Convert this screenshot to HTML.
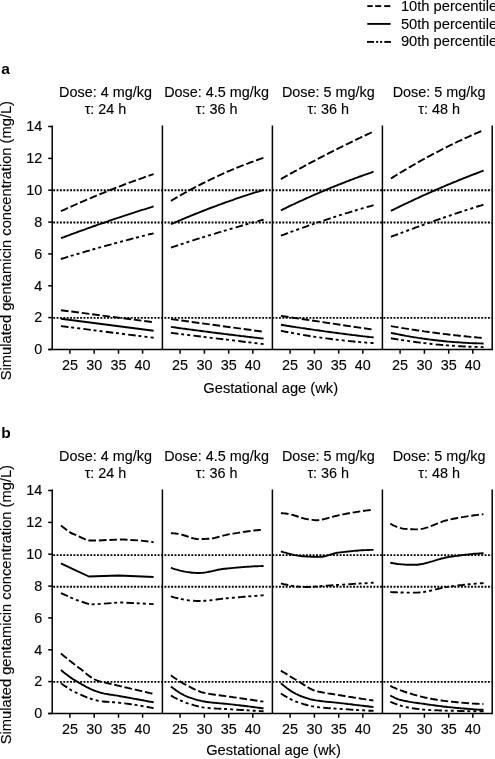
<!DOCTYPE html>
<html><head><meta charset="utf-8"><title>Gentamicin simulation</title>
<style>
html,body{margin:0;padding:0;background:#fff;width:495px;height:759px;overflow:hidden}
svg{display:block}
text{font-family:"Liberation Sans",sans-serif;fill:#000;stroke:#000;stroke-width:0.12px}
.t{font-size:14.7px}.ti{font-size:14.4px;text-anchor:middle}.tk{font-size:14.4px;text-anchor:middle}.yt{font-size:14.4px;text-anchor:end}
.lb{font-size:14.7px;text-anchor:middle}.pl{font-size:15.5px;font-weight:bold;stroke-width:0}
.ax{stroke:#000;stroke-width:1.5;fill:none}
.c{stroke:#000;stroke-width:1.9;fill:none;stroke-linejoin:round}
.d{stroke-dasharray:7.7 2.8}.dd{stroke-dasharray:7.6 2.7 3 3.1 3 3.2}
.ref{stroke:#000;stroke-width:1.9;stroke-dasharray:1.9 1.47;fill:none}
</style></head><body>

<svg width="495" height="759" viewBox="0 0 495 759">

<g>
<line class="c" x1="367.3" y1="6.1" x2="372.7" y2="6.1"/>
<line class="c" x1="375.2" y1="6.1" x2="381.2" y2="6.1"/>
<line class="c" x1="384.2" y1="6.1" x2="390.3" y2="6.1"/>
<line class="c" x1="367.3" y1="23.9" x2="390.6" y2="23.9"/>
<line class="c" x1="367" y1="41.9" x2="374" y2="41.9"/>
<line class="c" x1="376.1" y1="41.9" x2="378.2" y2="41.9"/>
<line class="c" x1="380.1" y1="41.9" x2="382.2" y2="41.9"/>
<line class="c" x1="384.3" y1="41.9" x2="391" y2="41.9"/>
<text class="t" x="400.9" y="10.6">10th percentile</text>
<text class="t" x="400.9" y="28.6">50th percentile</text>
<text class="t" x="400.9" y="46.4">90th percentile</text>
</g>

<g>
<text class="pl" x="1.2" y="73.5">a</text>
<text class="lb" transform="translate(10.9,240.6) rotate(-90)" x="0" y="0">Simulated gentamicin concentration (mg/L)</text>
<text class="ti" x="105.5" y="96.5">Dose: 4 mg/kg</text>
<text class="ti" x="105.5" y="113.5">τ: 24 h</text>
<text class="ti" x="216.6" y="96.5">Dose: 4.5 mg/kg</text>
<text class="ti" x="216.6" y="113.5">τ: 36 h</text>
<text class="ti" x="328.3" y="96.5">Dose: 5 mg/kg</text>
<text class="ti" x="328.3" y="113.5">τ: 36 h</text>
<text class="ti" x="439.1" y="96.5">Dose: 5 mg/kg</text>
<text class="ti" x="439.1" y="113.5">τ: 48 h</text>
<line class="ref" x1="53.2" y1="190.3" x2="491.7" y2="190.3"/>
<line class="ref" x1="53.2" y1="222.5" x2="491.7" y2="222.5"/>
<line class="ref" x1="53.2" y1="317.9" x2="491.7" y2="317.9"/>
<line class="ax" x1="52.2" y1="125.5" x2="52.2" y2="349.5"/>
<line class="ax" x1="162.4" y1="125.5" x2="162.4" y2="349.5"/>
<line class="ax" x1="272.4" y1="125.5" x2="272.4" y2="349.5"/>
<line class="ax" x1="382.4" y1="125.5" x2="382.4" y2="349.5"/>
<line class="ax" x1="492.2" y1="125.5" x2="492.2" y2="349.5"/>
<line class="ax" x1="48.2" y1="349.5" x2="492.9" y2="349.5"/>
<line class="ax" x1="48.2" y1="349.5" x2="52.2" y2="349.5"/>
<text class="yt" x="42.3" y="354.3">0</text>
<line class="ax" x1="48.2" y1="317.6" x2="52.2" y2="317.6"/>
<text class="yt" x="42.3" y="322.4">2</text>
<line class="ax" x1="48.2" y1="285.8" x2="52.2" y2="285.8"/>
<text class="yt" x="42.3" y="290.6">4</text>
<line class="ax" x1="48.2" y1="253.9" x2="52.2" y2="253.9"/>
<text class="yt" x="42.3" y="258.7">6</text>
<line class="ax" x1="48.2" y1="222.1" x2="52.2" y2="222.1"/>
<text class="yt" x="42.3" y="226.9">8</text>
<line class="ax" x1="48.2" y1="190.2" x2="52.2" y2="190.2"/>
<text class="yt" x="42.3" y="195">10</text>
<line class="ax" x1="48.2" y1="158.4" x2="52.2" y2="158.4"/>
<text class="yt" x="42.3" y="163.2">12</text>
<line class="ax" x1="48.2" y1="126.5" x2="52.2" y2="126.5"/>
<text class="yt" x="42.3" y="131.3">14</text>
<line class="ax" x1="69.9" y1="349.5" x2="69.9" y2="353.7"/>
<text class="tk" x="69.9" y="370">25</text>
<line class="ax" x1="94.2" y1="349.5" x2="94.2" y2="353.7"/>
<text class="tk" x="94.2" y="370">30</text>
<line class="ax" x1="118.5" y1="349.5" x2="118.5" y2="353.7"/>
<text class="tk" x="118.5" y="370">35</text>
<line class="ax" x1="142.6" y1="349.5" x2="142.6" y2="353.7"/>
<text class="tk" x="142.6" y="370">40</text>
<line class="ax" x1="180.1" y1="349.5" x2="180.1" y2="353.7"/>
<text class="tk" x="180.1" y="370">25</text>
<line class="ax" x1="204.4" y1="349.5" x2="204.4" y2="353.7"/>
<text class="tk" x="204.4" y="370">30</text>
<line class="ax" x1="228.7" y1="349.5" x2="228.7" y2="353.7"/>
<text class="tk" x="228.7" y="370">35</text>
<line class="ax" x1="252.8" y1="349.5" x2="252.8" y2="353.7"/>
<text class="tk" x="252.8" y="370">40</text>
<line class="ax" x1="290.1" y1="349.5" x2="290.1" y2="353.7"/>
<text class="tk" x="290.1" y="370">25</text>
<line class="ax" x1="314.4" y1="349.5" x2="314.4" y2="353.7"/>
<text class="tk" x="314.4" y="370">30</text>
<line class="ax" x1="338.7" y1="349.5" x2="338.7" y2="353.7"/>
<text class="tk" x="338.7" y="370">35</text>
<line class="ax" x1="362.8" y1="349.5" x2="362.8" y2="353.7"/>
<text class="tk" x="362.8" y="370">40</text>
<line class="ax" x1="400.1" y1="349.5" x2="400.1" y2="353.7"/>
<text class="tk" x="400.1" y="370">25</text>
<line class="ax" x1="424.4" y1="349.5" x2="424.4" y2="353.7"/>
<text class="tk" x="424.4" y="370">30</text>
<line class="ax" x1="448.7" y1="349.5" x2="448.7" y2="353.7"/>
<text class="tk" x="448.7" y="370">35</text>
<line class="ax" x1="472.8" y1="349.5" x2="472.8" y2="353.7"/>
<text class="tk" x="472.8" y="370">40</text>
<text class="lb" x="270.7" y="392.5">Gestational age (wk)</text>
<polyline class="c d" points="60.9,211.2 62.4,210.5 63.9,209.8 65.5,209.1 67,208.4 68.5,207.7 70,207 71.5,206.4 73.1,205.7 74.6,205 76.1,204.3 77.6,203.7 79.1,203 80.7,202.3 82.2,201.7 83.7,201 85.2,200.4 86.7,199.7 88.3,199.1 89.8,198.4 91.3,197.8 92.8,197.1 94.3,196.5 95.9,195.9 97.4,195.2 98.9,194.6 100.4,194 101.9,193.4 103.5,192.8 105,192.1 106.5,191.5 108,190.9 109.5,190.3 111,189.7 112.6,189.1 114.1,188.5 115.6,187.9 117.1,187.3 118.6,186.7 120.2,186.2 121.7,185.6 123.2,185 124.7,184.4 126.2,183.9 127.8,183.3 129.3,182.7 130.8,182.2 132.3,181.6 133.8,181 135.4,180.5 136.9,179.9 138.4,179.4 139.9,178.9 141.4,178.3 143,177.8 144.5,177.2 146,176.7 147.5,176.2 149,175.7 150.6,175.1 152.1,174.6 153.6,174.1"/>
<polyline class="c" points="60.9,238.2 62.4,237.6 63.9,237.1 65.5,236.5 67,235.9 68.5,235.4 70,234.8 71.5,234.2 73.1,233.7 74.6,233.1 76.1,232.6 77.6,232 79.1,231.4 80.7,230.9 82.2,230.3 83.7,229.8 85.2,229.3 86.7,228.7 88.3,228.2 89.8,227.6 91.3,227.1 92.8,226.5 94.3,226 95.9,225.5 97.4,224.9 98.9,224.4 100.4,223.9 101.9,223.4 103.5,222.8 105,222.3 106.5,221.8 108,221.3 109.5,220.7 111,220.2 112.6,219.7 114.1,219.2 115.6,218.7 117.1,218.2 118.6,217.7 120.2,217.1 121.7,216.6 123.2,216.1 124.7,215.6 126.2,215.1 127.8,214.6 129.3,214.1 130.8,213.6 132.3,213.1 133.8,212.7 135.4,212.2 136.9,211.7 138.4,211.2 139.9,210.7 141.4,210.2 143,209.7 144.5,209.3 146,208.8 147.5,208.3 149,207.8 150.6,207.3 152.1,206.9 153.6,206.4"/>
<polyline class="c dd" points="60.9,259 62.4,258.5 63.9,258.1 65.5,257.6 67,257.1 68.5,256.7 70,256.2 71.5,255.7 73.1,255.3 74.6,254.8 76.1,254.4 77.6,253.9 79.1,253.5 80.7,253 82.2,252.6 83.7,252.1 85.2,251.7 86.7,251.2 88.3,250.8 89.8,250.4 91.3,249.9 92.8,249.5 94.3,249 95.9,248.6 97.4,248.2 98.9,247.7 100.4,247.3 101.9,246.9 103.5,246.5 105,246 106.5,245.6 108,245.2 109.5,244.8 111,244.4 112.6,243.9 114.1,243.5 115.6,243.1 117.1,242.7 118.6,242.3 120.2,241.9 121.7,241.5 123.2,241.1 124.7,240.7 126.2,240.3 127.8,239.9 129.3,239.5 130.8,239.1 132.3,238.7 133.8,238.3 135.4,237.9 136.9,237.5 138.4,237.1 139.9,236.7 141.4,236.3 143,235.9 144.5,235.6 146,235.2 147.5,234.8 149,234.4 150.6,234 152.1,233.7 153.6,233.3"/>
<polyline class="c d" points="60.9,310.2 153.6,322.2"/>
<polyline class="c" points="60.9,318.7 153.6,330.8"/>
<polyline class="c dd" points="60.9,326.1 153.6,337.8"/>
<polyline class="c d" points="170.9,200.9 172.4,200 173.9,199.1 175.4,198.2 177,197.3 178.5,196.5 180,195.6 181.5,194.7 183,193.9 184.5,193 186.1,192.2 187.6,191.3 189.1,190.5 190.6,189.7 192.1,188.9 193.6,188.1 195.2,187.2 196.7,186.5 198.2,185.7 199.7,184.9 201.2,184.1 202.7,183.3 204.3,182.6 205.8,181.8 207.3,181.1 208.8,180.3 210.3,179.6 211.8,178.8 213.4,178.1 214.9,177.4 216.4,176.7 217.9,176 219.4,175.3 220.9,174.6 222.5,173.9 224,173.2 225.5,172.6 227,171.9 228.5,171.2 230,170.6 231.6,169.9 233.1,169.3 234.6,168.7 236.1,168 237.6,167.4 239.1,166.8 240.7,166.2 242.2,165.6 243.7,165 245.2,164.4 246.7,163.8 248.2,163.3 249.8,162.7 251.3,162.1 252.8,161.6 254.3,161 255.8,160.5 257.3,160 258.9,159.4 260.4,158.9 261.9,158.4 263.4,157.9"/>
<polyline class="c" points="170.9,224.2 172.4,223.5 173.9,222.9 175.5,222.2 177,221.6 178.5,220.9 180,220.3 181.5,219.6 183.1,219 184.6,218.3 186.1,217.7 187.6,217.1 189.1,216.5 190.7,215.8 192.2,215.2 193.7,214.6 195.2,214 196.7,213.4 198.3,212.8 199.8,212.2 201.3,211.6 202.8,211 204.3,210.4 205.9,209.8 207.4,209.2 208.9,208.6 210.4,208 211.9,207.5 213.5,206.9 215,206.3 216.5,205.8 218,205.2 219.5,204.6 221,204.1 222.6,203.5 224.1,203 225.6,202.4 227.1,201.9 228.6,201.4 230.2,200.8 231.7,200.3 233.2,199.8 234.7,199.2 236.2,198.7 237.8,198.2 239.3,197.7 240.8,197.2 242.3,196.7 243.8,196.2 245.4,195.7 246.9,195.2 248.4,194.7 249.9,194.2 251.4,193.7 253,193.2 254.5,192.7 256,192.2 257.5,191.8 259,191.3 260.6,190.8 262.1,190.4 263.6,189.9"/>
<polyline class="c dd" points="170.9,247.6 172.4,247.1 173.9,246.6 175.5,246.1 177,245.6 178.5,245.1 180,244.6 181.5,244.1 183.1,243.6 184.6,243.1 186.1,242.6 187.6,242.1 189.1,241.6 190.7,241.2 192.2,240.7 193.7,240.2 195.2,239.7 196.7,239.2 198.3,238.7 199.8,238.3 201.3,237.8 202.8,237.3 204.3,236.8 205.9,236.4 207.4,235.9 208.9,235.4 210.4,235 211.9,234.5 213.5,234 215,233.6 216.5,233.1 218,232.7 219.5,232.2 221,231.8 222.6,231.3 224.1,230.8 225.6,230.4 227.1,229.9 228.6,229.5 230.2,229 231.7,228.6 233.2,228.2 234.7,227.7 236.2,227.3 237.8,226.8 239.3,226.4 240.8,226 242.3,225.5 243.8,225.1 245.4,224.7 246.9,224.2 248.4,223.8 249.9,223.4 251.4,222.9 253,222.5 254.5,222.1 256,221.7 257.5,221.3 259,220.8 260.6,220.4 262.1,220 263.6,219.6"/>
<polyline class="c d" points="170.9,319.1 263.4,331.7"/>
<polyline class="c" points="170.9,326.9 172.4,327.1 173.9,327.3 175.5,327.5 177,327.7 178.5,328 180,328.2 181.5,328.4 183.1,328.6 184.6,328.8 186.1,329 187.6,329.2 189.1,329.4 190.7,329.6 192.2,329.8 193.7,330 195.2,330.2 196.7,330.4 198.3,330.6 199.8,330.8 201.3,331 202.8,331.2 204.3,331.4 205.9,331.6 207.4,331.8 208.9,332 210.4,332.2 211.9,332.4 213.5,332.6 215,332.8 216.5,333 218,333.2 219.5,333.3 221,333.5 222.6,333.7 224.1,333.9 225.6,334.1 227.1,334.3 228.6,334.5 230.2,334.7 231.7,334.8 233.2,335 234.7,335.2 236.2,335.4 237.8,335.6 239.3,335.8 240.8,336 242.3,336.1 243.8,336.3 245.4,336.5 246.9,336.7 248.4,336.9 249.9,337 251.4,337.2 253,337.4 254.5,337.6 256,337.7 257.5,337.9 259,338.1 260.6,338.3 262.1,338.4 263.6,338.6"/>
<polyline class="c dd" points="170.9,332.9 263.6,344.1"/>
<polyline class="c d" points="280.9,179.1 282.4,178.2 283.9,177.4 285.4,176.5 287,175.7 288.5,174.8 290,174 291.5,173.1 293,172.3 294.5,171.4 296.1,170.6 297.6,169.8 299.1,168.9 300.6,168.1 302.1,167.3 303.6,166.5 305.2,165.6 306.7,164.8 308.2,164 309.7,163.2 311.2,162.4 312.7,161.6 314.3,160.8 315.8,160 317.3,159.2 318.8,158.4 320.3,157.6 321.8,156.8 323.4,156 324.9,155.2 326.4,154.4 327.9,153.7 329.4,152.9 330.9,152.1 332.5,151.3 334,150.6 335.5,149.8 337,149.1 338.5,148.3 340,147.5 341.6,146.8 343.1,146 344.6,145.3 346.1,144.5 347.6,143.8 349.1,143.1 350.7,142.3 352.2,141.6 353.7,140.9 355.2,140.1 356.7,139.4 358.2,138.7 359.8,138 361.3,137.2 362.8,136.5 364.3,135.8 365.8,135.1 367.3,134.4 368.9,133.7 370.4,133 371.9,132.3 373.4,131.6"/>
<polyline class="c" points="280.9,210.3 282.4,209.6 283.9,208.8 285.5,208.1 287,207.4 288.5,206.6 290,205.9 291.5,205.2 293.1,204.5 294.6,203.8 296.1,203 297.6,202.3 299.1,201.6 300.7,200.9 302.2,200.3 303.7,199.6 305.2,198.9 306.7,198.2 308.3,197.5 309.8,196.8 311.3,196.2 312.8,195.5 314.3,194.8 315.9,194.2 317.4,193.5 318.9,192.9 320.4,192.2 321.9,191.6 323.5,190.9 325,190.3 326.5,189.6 328,189 329.5,188.4 331,187.7 332.6,187.1 334.1,186.5 335.6,185.9 337.1,185.3 338.6,184.7 340.2,184.1 341.7,183.5 343.2,182.9 344.7,182.3 346.2,181.7 347.8,181.1 349.3,180.5 350.8,179.9 352.3,179.4 353.8,178.8 355.4,178.2 356.9,177.7 358.4,177.1 359.9,176.5 361.4,176 363,175.4 364.5,174.9 366,174.4 367.5,173.8 369,173.3 370.6,172.8 372.1,172.2 373.6,171.7"/>
<polyline class="c dd" points="280.9,235.7 282.4,235.1 283.9,234.6 285.5,234 287,233.4 288.5,232.9 290,232.3 291.5,231.7 293.1,231.2 294.6,230.6 296.1,230.1 297.6,229.5 299.1,229 300.7,228.4 302.2,227.9 303.7,227.4 305.2,226.8 306.7,226.3 308.3,225.7 309.8,225.2 311.3,224.7 312.8,224.2 314.3,223.6 315.9,223.1 317.4,222.6 318.9,222.1 320.4,221.6 321.9,221.1 323.5,220.6 325,220.1 326.5,219.6 328,219.1 329.5,218.6 331,218.1 332.6,217.6 334.1,217.1 335.6,216.6 337.1,216.1 338.6,215.6 340.2,215.1 341.7,214.7 343.2,214.2 344.7,213.7 346.2,213.2 347.8,212.8 349.3,212.3 350.8,211.9 352.3,211.4 353.8,210.9 355.4,210.5 356.9,210 358.4,209.6 359.9,209.1 361.4,208.7 363,208.2 364.5,207.8 366,207.4 367.5,206.9 369,206.5 370.6,206.1 372.1,205.6 373.6,205.2"/>
<polyline class="c d" points="280.9,315.9 373.4,329.7"/>
<polyline class="c" points="280.9,324.8 282.4,325 283.9,325.3 285.5,325.5 287,325.8 288.5,326 290,326.2 291.5,326.5 293.1,326.7 294.6,326.9 296.1,327.2 297.6,327.4 299.1,327.6 300.7,327.9 302.2,328.1 303.7,328.3 305.2,328.5 306.7,328.8 308.3,329 309.8,329.2 311.3,329.4 312.8,329.6 314.3,329.9 315.9,330.1 317.4,330.3 318.9,330.5 320.4,330.7 321.9,330.9 323.5,331.1 325,331.4 326.5,331.6 328,331.8 329.5,332 331,332.2 332.6,332.4 334.1,332.6 335.6,332.8 337.1,333 338.6,333.2 340.2,333.4 341.7,333.6 343.2,333.8 344.7,334 346.2,334.2 347.8,334.4 349.3,334.6 350.8,334.8 352.3,335 353.8,335.1 355.4,335.3 356.9,335.5 358.4,335.7 359.9,335.9 361.4,336.1 363,336.3 364.5,336.4 366,336.6 367.5,336.8 369,337 370.6,337.1 372.1,337.3 373.6,337.5"/>
<polyline class="c dd" points="280.9,330.8 282.4,331.1 283.9,331.4 285.5,331.7 287,332 288.5,332.3 290,332.6 291.5,332.8 293.1,333.1 294.6,333.4 296.1,333.7 297.6,333.9 299.1,334.2 300.7,334.5 302.2,334.7 303.7,335 305.2,335.2 306.7,335.5 308.3,335.7 309.8,336 311.3,336.2 312.8,336.4 314.3,336.7 315.9,336.9 317.4,337.1 318.9,337.3 320.4,337.6 321.9,337.8 323.5,338 325,338.2 326.5,338.4 328,338.6 329.5,338.8 331,339 332.6,339.2 334.1,339.4 335.6,339.6 337.1,339.7 338.6,339.9 340.2,340.1 341.7,340.3 343.2,340.4 344.7,340.6 346.2,340.8 347.8,340.9 349.3,341.1 350.8,341.2 352.3,341.4 353.8,341.5 355.4,341.7 356.9,341.8 358.4,341.9 359.9,342.1 361.4,342.2 363,342.3 364.5,342.4 366,342.6 367.5,342.7 369,342.8 370.6,342.9 372.1,343 373.6,343.1"/>
<polyline class="c d" points="390.9,178.5 392.4,177.6 393.9,176.6 395.4,175.7 397,174.7 398.5,173.8 400,172.9 401.5,172 403,171.1 404.5,170.2 406.1,169.3 407.6,168.4 409.1,167.5 410.6,166.6 412.1,165.7 413.6,164.8 415.2,164 416.7,163.1 418.2,162.2 419.7,161.4 421.2,160.5 422.7,159.7 424.3,158.9 425.8,158 427.3,157.2 428.8,156.4 430.3,155.6 431.8,154.7 433.4,153.9 434.9,153.1 436.4,152.3 437.9,151.6 439.4,150.8 440.9,150 442.5,149.2 444,148.4 445.5,147.7 447,146.9 448.5,146.2 450,145.4 451.6,144.7 453.1,143.9 454.6,143.2 456.1,142.5 457.6,141.7 459.1,141 460.7,140.3 462.2,139.6 463.7,138.9 465.2,138.2 466.7,137.5 468.2,136.8 469.8,136.1 471.3,135.4 472.8,134.8 474.3,134.1 475.8,133.4 477.3,132.8 478.9,132.1 480.4,131.5 481.9,130.8 483.4,130.2"/>
<polyline class="c" points="390.9,210.9 392.4,210.1 393.9,209.4 395.5,208.6 397,207.9 398.5,207.2 400,206.4 401.5,205.7 403.1,204.9 404.6,204.2 406.1,203.5 407.6,202.8 409.1,202 410.7,201.3 412.2,200.6 413.7,199.9 415.2,199.2 416.7,198.5 418.3,197.8 419.8,197.1 421.3,196.4 422.8,195.7 424.3,195 425.9,194.3 427.4,193.6 428.9,193 430.4,192.3 431.9,191.6 433.5,190.9 435,190.3 436.5,189.6 438,188.9 439.5,188.3 441,187.6 442.6,187 444.1,186.3 445.6,185.7 447.1,185 448.6,184.4 450.2,183.8 451.7,183.1 453.2,182.5 454.7,181.9 456.2,181.3 457.8,180.6 459.3,180 460.8,179.4 462.3,178.8 463.8,178.2 465.4,177.6 466.9,177 468.4,176.4 469.9,175.8 471.4,175.2 473,174.6 474.5,174 476,173.5 477.5,172.9 479,172.3 480.6,171.7 482.1,171.2 483.6,170.6"/>
<polyline class="c dd" points="390.9,236.8 392.4,236.2 393.9,235.6 395.5,235.1 397,234.5 398.5,233.9 400,233.3 401.5,232.8 403.1,232.2 404.6,231.6 406.1,231.1 407.6,230.5 409.1,230 410.7,229.4 412.2,228.8 413.7,228.3 415.2,227.7 416.7,227.2 418.3,226.6 419.8,226.1 421.3,225.5 422.8,225 424.3,224.4 425.9,223.9 427.4,223.4 428.9,222.8 430.4,222.3 431.9,221.7 433.5,221.2 435,220.7 436.5,220.1 438,219.6 439.5,219.1 441,218.6 442.6,218 444.1,217.5 445.6,217 447.1,216.5 448.6,216 450.2,215.5 451.7,214.9 453.2,214.4 454.7,213.9 456.2,213.4 457.8,212.9 459.3,212.4 460.8,211.9 462.3,211.4 463.8,210.9 465.4,210.4 466.9,209.9 468.4,209.4 469.9,208.9 471.4,208.5 473,208 474.5,207.5 476,207 477.5,206.5 479,206 480.6,205.6 482.1,205.1 483.6,204.6"/>
<polyline class="c d" points="390.9,326.1 392.4,326.4 393.9,326.6 395.4,326.9 397,327.1 398.5,327.4 400,327.6 401.5,327.9 403,328.1 404.5,328.4 406.1,328.6 407.6,328.9 409.1,329.1 410.6,329.3 412.1,329.6 413.6,329.8 415.2,330 416.7,330.3 418.2,330.5 419.7,330.7 421.2,330.9 422.7,331.1 424.3,331.4 425.8,331.6 427.3,331.8 428.8,332 430.3,332.2 431.8,332.4 433.4,332.6 434.9,332.8 436.4,333 437.9,333.2 439.4,333.4 440.9,333.6 442.5,333.8 444,334 445.5,334.1 447,334.3 448.5,334.5 450,334.7 451.6,334.9 453.1,335 454.6,335.2 456.1,335.4 457.6,335.5 459.1,335.7 460.7,335.9 462.2,336 463.7,336.2 465.2,336.3 466.7,336.5 468.2,336.6 469.8,336.8 471.3,336.9 472.8,337.1 474.3,337.2 475.8,337.3 477.3,337.5 478.9,337.6 480.4,337.7 481.9,337.9 483.4,338"/>
<polyline class="c" points="390.9,332.9 392.4,333.2 393.9,333.5 395.5,333.8 397,334.1 398.5,334.4 400,334.7 401.5,335 403.1,335.3 404.6,335.6 406.1,335.9 407.6,336.1 409.1,336.4 410.7,336.7 412.2,336.9 413.7,337.2 415.2,337.4 416.7,337.6 418.3,337.9 419.8,338.1 421.3,338.3 422.8,338.6 424.3,338.8 425.9,339 427.4,339.2 428.9,339.4 430.4,339.6 431.9,339.8 433.5,340 435,340.2 436.5,340.3 438,340.5 439.5,340.7 441,340.8 442.6,341 444.1,341.2 445.6,341.3 447.1,341.5 448.6,341.6 450.2,341.7 451.7,341.9 453.2,342 454.7,342.1 456.2,342.2 457.8,342.3 459.3,342.4 460.8,342.5 462.3,342.6 463.8,342.7 465.4,342.8 466.9,342.9 468.4,343 469.9,343.1 471.4,343.1 473,343.2 474.5,343.2 476,343.3 477.5,343.4 479,343.4 480.6,343.4 482.1,343.5 483.6,343.5"/>
<polyline class="c dd" points="390.9,338.2 392.4,338.5 393.9,338.7 395.5,339 397,339.2 398.5,339.5 400,339.7 401.5,340 403.1,340.2 404.6,340.5 406.1,340.7 407.6,340.9 409.1,341.1 410.7,341.4 412.2,341.6 413.7,341.8 415.2,342 416.7,342.2 418.3,342.4 419.8,342.6 421.3,342.8 422.8,343 424.3,343.1 425.9,343.3 427.4,343.5 428.9,343.7 430.4,343.8 431.9,344 433.5,344.2 435,344.3 436.5,344.5 438,344.6 439.5,344.7 441,344.9 442.6,345 444.1,345.1 445.6,345.3 447.1,345.4 448.6,345.5 450.2,345.6 451.7,345.7 453.2,345.8 454.7,345.9 456.2,346 457.8,346.1 459.3,346.2 460.8,346.3 462.3,346.4 463.8,346.5 465.4,346.5 466.9,346.6 468.4,346.7 469.9,346.7 471.4,346.8 473,346.8 474.5,346.9 476,346.9 477.5,347 479,347 480.6,347 482.1,347.1 483.6,347.1"/>
</g>

<g>
<text class="pl" x="1.2" y="437.5">b</text>
<text class="lb" transform="translate(10.9,604.6) rotate(-90)" x="0" y="0">Simulated gentamicin concentration (mg/L)</text>
<text class="ti" x="105.5" y="460.5">Dose: 4 mg/kg</text>
<text class="ti" x="105.5" y="477.5">τ: 24 h</text>
<text class="ti" x="216.6" y="460.5">Dose: 4.5 mg/kg</text>
<text class="ti" x="216.6" y="477.5">τ: 36 h</text>
<text class="ti" x="328.3" y="460.5">Dose: 5 mg/kg</text>
<text class="ti" x="328.3" y="477.5">τ: 36 h</text>
<text class="ti" x="439.1" y="460.5">Dose: 5 mg/kg</text>
<text class="ti" x="439.1" y="477.5">τ: 48 h</text>
<line class="ref" x1="53.2" y1="555.1" x2="491.7" y2="555.1"/>
<line class="ref" x1="53.2" y1="586.7" x2="491.7" y2="586.7"/>
<line class="ref" x1="53.2" y1="681.9" x2="491.7" y2="681.9"/>
<line class="ax" x1="52.2" y1="489.5" x2="52.2" y2="713.5"/>
<line class="ax" x1="162.4" y1="489.5" x2="162.4" y2="713.5"/>
<line class="ax" x1="272.4" y1="489.5" x2="272.4" y2="713.5"/>
<line class="ax" x1="382.4" y1="489.5" x2="382.4" y2="713.5"/>
<line class="ax" x1="492.2" y1="489.5" x2="492.2" y2="713.5"/>
<line class="ax" x1="48.2" y1="713.5" x2="492.9" y2="713.5"/>
<line class="ax" x1="48.2" y1="713.5" x2="52.2" y2="713.5"/>
<text class="yt" x="42.3" y="718.3">0</text>
<line class="ax" x1="48.2" y1="681.6" x2="52.2" y2="681.6"/>
<text class="yt" x="42.3" y="686.4">2</text>
<line class="ax" x1="48.2" y1="649.8" x2="52.2" y2="649.8"/>
<text class="yt" x="42.3" y="654.6">4</text>
<line class="ax" x1="48.2" y1="617.9" x2="52.2" y2="617.9"/>
<text class="yt" x="42.3" y="622.7">6</text>
<line class="ax" x1="48.2" y1="586.1" x2="52.2" y2="586.1"/>
<text class="yt" x="42.3" y="590.9">8</text>
<line class="ax" x1="48.2" y1="554.2" x2="52.2" y2="554.2"/>
<text class="yt" x="42.3" y="559">10</text>
<line class="ax" x1="48.2" y1="522.4" x2="52.2" y2="522.4"/>
<text class="yt" x="42.3" y="527.2">12</text>
<line class="ax" x1="48.2" y1="490.5" x2="52.2" y2="490.5"/>
<text class="yt" x="42.3" y="495.3">14</text>
<line class="ax" x1="69.9" y1="713.5" x2="69.9" y2="717.7"/>
<text class="tk" x="69.9" y="734">25</text>
<line class="ax" x1="94.2" y1="713.5" x2="94.2" y2="717.7"/>
<text class="tk" x="94.2" y="734">30</text>
<line class="ax" x1="118.5" y1="713.5" x2="118.5" y2="717.7"/>
<text class="tk" x="118.5" y="734">35</text>
<line class="ax" x1="142.6" y1="713.5" x2="142.6" y2="717.7"/>
<text class="tk" x="142.6" y="734">40</text>
<line class="ax" x1="180.1" y1="713.5" x2="180.1" y2="717.7"/>
<text class="tk" x="180.1" y="734">25</text>
<line class="ax" x1="204.4" y1="713.5" x2="204.4" y2="717.7"/>
<text class="tk" x="204.4" y="734">30</text>
<line class="ax" x1="228.7" y1="713.5" x2="228.7" y2="717.7"/>
<text class="tk" x="228.7" y="734">35</text>
<line class="ax" x1="252.8" y1="713.5" x2="252.8" y2="717.7"/>
<text class="tk" x="252.8" y="734">40</text>
<line class="ax" x1="290.1" y1="713.5" x2="290.1" y2="717.7"/>
<text class="tk" x="290.1" y="734">25</text>
<line class="ax" x1="314.4" y1="713.5" x2="314.4" y2="717.7"/>
<text class="tk" x="314.4" y="734">30</text>
<line class="ax" x1="338.7" y1="713.5" x2="338.7" y2="717.7"/>
<text class="tk" x="338.7" y="734">35</text>
<line class="ax" x1="362.8" y1="713.5" x2="362.8" y2="717.7"/>
<text class="tk" x="362.8" y="734">40</text>
<line class="ax" x1="400.1" y1="713.5" x2="400.1" y2="717.7"/>
<text class="tk" x="400.1" y="734">25</text>
<line class="ax" x1="424.4" y1="713.5" x2="424.4" y2="717.7"/>
<text class="tk" x="424.4" y="734">30</text>
<line class="ax" x1="448.7" y1="713.5" x2="448.7" y2="717.7"/>
<text class="tk" x="448.7" y="734">35</text>
<line class="ax" x1="472.8" y1="713.5" x2="472.8" y2="717.7"/>
<text class="tk" x="472.8" y="734">40</text>
<text class="lb" x="273.5" y="755">Gestational age (wk)</text>
<polyline class="c d" points="60.9,525.6 70.9,533 76.2,535.2 87.9,540.5 97.4,540.5 120.8,539.4 139.9,540.5 153.6,542.2"/>
<polyline class="c" points="60.9,563.4 76.2,570.6 88.9,576.5 118.6,575.5 153.6,577"/>
<polyline class="c dd" points="60.9,593.1 76.2,599.9 90,604.5 97.4,604.1 120.8,602.4 153.6,604.1"/>
<polyline class="c d" points="60.9,653.5 62.4,654.8 63.9,656 65.5,657.2 67,658.5 68.5,659.7 70,660.9 71.5,662.1 73.1,663.2 74.6,664.4 76.1,665.5 77.6,666.7 79.1,667.9 80.7,669.1 82.2,670.3 83.7,671.6 85.2,672.8 86.7,674.1 88.3,675.2 89.8,676.4 91.3,677.4 92.8,678.4 94.3,679.3 95.9,680 97.4,680.7 98.9,681.2 100.4,681.6 101.9,682 103.5,682.3 105,682.6 106.5,682.9 108,683.3 109.5,683.6 111,684 112.6,684.3 114.1,684.7 115.6,685 117.1,685.4 118.6,685.7 120.2,686.1 121.7,686.5 123.2,686.8 124.7,687.2 126.2,687.5 127.8,687.9 129.3,688.2 130.8,688.6 132.3,688.9 133.8,689.3 135.4,689.6 136.9,690 138.4,690.3 139.9,690.7 141.4,691 143,691.4 144.5,691.8 146,692.1 147.5,692.5 149,692.8 150.6,693.2 152.1,693.5 153.6,693.9"/>
<polyline class="c" points="60.9,670 62.4,671.2 63.9,672.5 65.5,673.7 67,674.8 68.5,676 70,677.1 71.5,678.1 73.1,679.2 74.6,680.1 76.1,681 77.6,681.9 79.1,682.8 80.7,683.7 82.2,684.6 83.7,685.4 85.2,686.2 86.7,687.1 88.3,687.8 89.8,688.6 91.3,689.3 92.8,690 94.3,690.6 95.9,691.2 97.4,691.7 98.9,692.2 100.4,692.7 101.9,693 103.5,693.4 105,693.7 106.5,693.9 108,694.2 109.5,694.5 111,694.7 112.6,694.9 114.1,695.2 115.6,695.4 117.1,695.6 118.6,695.9 120.2,696.2 121.7,696.5 123.2,696.7 124.7,697 126.2,697.3 127.8,697.6 129.3,697.8 130.8,698.1 132.3,698.4 133.8,698.7 135.4,698.9 136.9,699.2 138.4,699.5 139.9,699.8 141.4,700.1 143,700.3 144.5,700.6 146,700.9 147.5,701.2 149,701.5 150.6,701.7 152.1,702 153.6,702.3"/>
<polyline class="c dd" points="60.9,683.2 62.4,684.3 63.9,685.4 65.5,686.4 67,687.4 68.5,688.4 70,689.4 71.5,690.3 73.1,691.1 74.6,691.9 76.1,692.7 77.6,693.3 79.1,694 80.7,694.7 82.2,695.4 83.7,696 85.2,696.7 86.7,697.3 88.3,697.9 89.8,698.4 91.3,699 92.8,699.5 94.3,699.9 95.9,700.3 97.4,700.6 98.9,700.9 100.4,701.2 101.9,701.4 103.5,701.5 105,701.7 106.5,701.8 108,701.9 109.5,702 111,702.1 112.6,702.2 114.1,702.3 115.6,702.4 117.1,702.6 118.6,702.7 120.2,702.9 121.7,703 123.2,703.2 124.7,703.4 126.2,703.6 127.8,703.8 129.3,704 130.8,704.2 132.3,704.4 133.8,704.7 135.4,704.9 136.9,705.1 138.4,705.4 139.9,705.6 141.4,705.9 143,706.2 144.5,706.4 146,706.7 147.5,707 149,707.3 150.6,707.6 152.1,707.9 153.6,708.2"/>
<polyline class="c d" points="170.9,533.2 172.4,533.3 173.9,533.4 175.4,533.5 177,533.7 178.5,533.9 180,534.2 181.5,534.6 183,535 184.5,535.5 186.1,536 187.6,536.5 189.1,537 190.6,537.5 192.1,538 193.6,538.4 195.2,538.7 196.7,539 198.2,539.1 199.7,539.1 201.2,539.1 202.7,539 204.3,539 205.8,538.9 207.3,538.8 208.8,538.7 210.3,538.6 211.8,538.5 213.4,538.2 214.9,537.9 216.4,537.5 217.9,537.1 219.4,536.7 220.9,536.3 222.5,535.9 224,535.4 225.5,535.1 227,534.7 228.5,534.4 230,534.1 231.6,533.9 233.1,533.6 234.6,533.4 236.1,533.1 237.6,532.9 239.1,532.6 240.7,532.4 242.2,532.2 243.7,531.9 245.2,531.7 246.7,531.5 248.2,531.3 249.8,531.1 251.3,530.9 252.8,530.7 254.3,530.5 255.8,530.3 257.3,530.2 258.9,530 260.4,529.9 261.9,529.7 263.4,529.6"/>
<polyline class="c" points="170.9,567.7 172.4,568.3 173.9,568.8 175.5,569.3 177,569.7 178.5,570.2 180,570.6 181.5,570.9 183.1,571.3 184.6,571.6 186.1,571.9 187.6,572.1 189.1,572.3 190.7,572.5 192.2,572.7 193.7,572.8 195.2,572.9 196.7,573 198.3,573 199.8,573 201.3,572.9 202.8,572.8 204.3,572.6 205.9,572.4 207.4,572.1 208.9,571.8 210.4,571.5 211.9,571.2 213.5,570.8 215,570.5 216.5,570.1 218,569.8 219.5,569.5 221,569.3 222.6,569 224.1,568.8 225.6,568.7 227.1,568.5 228.6,568.4 230.2,568.2 231.7,568.1 233.2,567.9 234.7,567.8 236.2,567.6 237.8,567.5 239.3,567.4 240.8,567.2 242.3,567.1 243.8,567 245.4,566.9 246.9,566.8 248.4,566.7 249.9,566.6 251.4,566.5 253,566.4 254.5,566.3 256,566.2 257.5,566.2 259,566.1 260.6,566.1 262.1,566 263.6,566"/>
<polyline class="c dd" points="170.9,596.4 172.4,596.8 173.9,597.3 175.5,597.7 177,598 178.5,598.4 180,598.8 181.5,599.1 183.1,599.4 184.6,599.7 186.1,599.9 187.6,600.2 189.1,600.4 190.7,600.5 192.2,600.7 193.7,600.8 195.2,600.9 196.7,601 198.3,601 199.8,601 201.3,601 202.8,600.9 204.3,600.8 205.9,600.7 207.4,600.6 208.9,600.4 210.4,600.3 211.9,600.1 213.5,599.9 215,599.7 216.5,599.5 218,599.3 219.5,599.1 221,598.9 222.6,598.7 224.1,598.6 225.6,598.4 227.1,598.2 228.6,598.1 230.2,598 231.7,597.8 233.2,597.7 234.7,597.6 236.2,597.4 237.8,597.3 239.3,597.2 240.8,597.1 242.3,596.9 243.8,596.8 245.4,596.7 246.9,596.6 248.4,596.4 249.9,596.3 251.4,596.2 253,596.1 254.5,596 256,595.9 257.5,595.7 259,595.6 260.6,595.5 262.1,595.4 263.6,595.3"/>
<polyline class="c d" points="170.9,675.3 172.4,676.4 173.9,677.5 175.4,678.5 177,679.5 178.5,680.5 180,681.4 181.5,682.4 183,683.3 184.5,684.1 186.1,684.9 187.6,685.7 189.1,686.5 190.6,687.3 192.1,688.1 193.6,688.9 195.2,689.6 196.7,690.3 198.2,690.9 199.7,691.5 201.2,692.1 202.7,692.5 204.3,692.9 205.8,693.2 207.3,693.5 208.8,693.8 210.3,694.1 211.8,694.3 213.4,694.5 214.9,694.7 216.4,694.9 217.9,695.1 219.4,695.3 220.9,695.5 222.5,695.7 224,695.9 225.5,696.1 227,696.3 228.5,696.5 230,696.7 231.6,696.9 233.1,697.2 234.6,697.4 236.1,697.6 237.6,697.8 239.1,698 240.7,698.3 242.2,698.5 243.7,698.7 245.2,698.9 246.7,699.2 248.2,699.4 249.8,699.6 251.3,699.8 252.8,700 254.3,700.3 255.8,700.5 257.3,700.7 258.9,700.9 260.4,701.2 261.9,701.4 263.4,701.6"/>
<polyline class="c" points="170.9,686.5 172.4,687.7 173.9,688.8 175.5,689.9 177,691 178.5,692 180,693 181.5,693.9 183.1,694.7 184.6,695.5 186.1,696.2 187.6,696.8 189.1,697.4 190.7,697.9 192.2,698.4 193.7,698.9 195.2,699.4 196.7,699.8 198.3,700.2 199.8,700.5 201.3,700.9 202.8,701.2 204.3,701.5 205.9,701.8 207.4,702 208.9,702.2 210.4,702.4 211.9,702.6 213.5,702.7 215,702.9 216.5,703 218,703.1 219.5,703.3 221,703.4 222.6,703.5 224.1,703.7 225.6,703.8 227.1,703.9 228.6,704.1 230.2,704.3 231.7,704.4 233.2,704.6 234.7,704.8 236.2,705 237.8,705.1 239.3,705.3 240.8,705.5 242.3,705.7 243.8,705.8 245.4,706 246.9,706.2 248.4,706.4 249.9,706.6 251.4,706.8 253,707 254.5,707.2 256,707.4 257.5,707.6 259,707.8 260.6,708 262.1,708.2 263.6,708.4"/>
<polyline class="c dd" points="170.9,695.6 172.4,696.4 173.9,697.3 175.5,698 177,698.8 178.5,699.6 180,700.3 181.5,700.9 183.1,701.6 184.6,702.2 186.1,702.8 187.6,703.3 189.1,703.8 190.7,704.2 192.2,704.7 193.7,705.2 195.2,705.6 196.7,706 198.3,706.4 199.8,706.8 201.3,707.1 202.8,707.4 204.3,707.6 205.9,707.8 207.4,707.9 208.9,708 210.4,708.2 211.9,708.3 213.5,708.4 215,708.5 216.5,708.6 218,708.6 219.5,708.7 221,708.8 222.6,708.9 224.1,708.9 225.6,709 227.1,709.1 228.6,709.2 230.2,709.3 231.7,709.4 233.2,709.5 234.7,709.6 236.2,709.7 237.8,709.8 239.3,709.9 240.8,710 242.3,710 243.8,710.1 245.4,710.2 246.9,710.3 248.4,710.4 249.9,710.5 251.4,710.6 253,710.7 254.5,710.8 256,710.9 257.5,710.9 259,711 260.6,711.1 262.1,711.2 263.6,711.3"/>
<polyline class="c d" points="280.9,513.2 282.4,513.3 283.9,513.4 285.4,513.5 287,513.7 288.5,513.9 290,514.2 291.5,514.6 293,515 294.5,515.5 296.1,516 297.6,516.5 299.1,517 300.6,517.6 302.1,518 303.6,518.4 305.2,518.8 306.7,519.1 308.2,519.3 309.7,519.5 311.2,519.7 312.7,519.9 314.3,520.1 315.8,520.2 317.3,520.2 318.8,520.1 320.3,519.9 321.8,519.5 323.4,519.2 324.9,518.9 326.4,518.5 327.9,518.1 329.4,517.7 330.9,517.3 332.5,516.9 334,516.4 335.5,516 337,515.7 338.5,515.3 340,515 341.6,514.7 343.1,514.4 344.6,514.1 346.1,513.8 347.6,513.5 349.1,513.2 350.7,513 352.2,512.7 353.7,512.4 355.2,512.2 356.7,511.9 358.2,511.7 359.8,511.4 361.3,511.2 362.8,511 364.3,510.8 365.8,510.6 367.3,510.4 368.9,510.2 370.4,510 371.9,509.8 373.4,509.7"/>
<polyline class="c" points="280.9,551.3 282.4,551.8 283.9,552.3 285.5,552.7 287,553.2 288.5,553.6 290,554 291.5,554.4 293.1,554.8 294.6,555.1 296.1,555.4 297.6,555.6 299.1,555.9 300.7,556 302.2,556.2 303.7,556.3 305.2,556.4 306.7,556.5 308.3,556.6 309.8,556.6 311.3,556.7 312.8,556.8 314.3,556.8 315.9,556.9 317.4,556.9 318.9,556.9 320.4,556.9 321.9,556.7 323.5,556.5 325,556.2 326.5,555.8 328,555.4 329.5,554.9 331,554.4 332.6,554 334.1,553.5 335.6,553.1 337.1,552.8 338.6,552.6 340.2,552.4 341.7,552.2 343.2,552.1 344.7,551.9 346.2,551.7 347.8,551.5 349.3,551.4 350.8,551.2 352.3,551.1 353.8,550.9 355.4,550.8 356.9,550.7 358.4,550.5 359.9,550.4 361.4,550.3 363,550.2 364.5,550.1 366,550.1 367.5,550 369,550 370.6,549.9 372.1,549.9 373.6,549.9"/>
<polyline class="c dd" points="280.9,583.4 282.4,583.8 283.9,584.2 285.5,584.5 287,584.8 288.5,585.1 290,585.4 291.5,585.7 293.1,585.9 294.6,586.1 296.1,586.3 297.6,586.5 299.1,586.7 300.7,586.8 302.2,586.9 303.7,586.9 305.2,587 306.7,587 308.3,587 309.8,586.9 311.3,586.9 312.8,586.8 314.3,586.7 315.9,586.5 317.4,586.4 318.9,586.3 320.4,586.2 321.9,586 323.5,585.9 325,585.8 326.5,585.7 328,585.6 329.5,585.5 331,585.4 332.6,585.3 334.1,585.2 335.6,585.1 337.1,585 338.6,584.9 340.2,584.8 341.7,584.7 343.2,584.6 344.7,584.5 346.2,584.4 347.8,584.3 349.3,584.2 350.8,584.1 352.3,584 353.8,583.9 355.4,583.8 356.9,583.7 358.4,583.6 359.9,583.5 361.4,583.4 363,583.3 364.5,583.3 366,583.2 367.5,583.1 369,583 370.6,582.9 372.1,582.8 373.6,582.7"/>
<polyline class="c d" points="280.9,670.6 282.4,671.6 283.9,672.5 285.4,673.4 287,674.4 288.5,675.3 290,676.2 291.5,677.2 293,678.1 294.5,679 296.1,679.9 297.6,680.8 299.1,681.7 300.6,682.6 302.1,683.6 303.6,684.6 305.2,685.6 306.7,686.6 308.2,687.5 309.7,688.4 311.2,689.2 312.7,689.9 314.3,690.5 315.8,690.9 317.3,691.3 318.8,691.7 320.3,692 321.8,692.3 323.4,692.6 324.9,692.9 326.4,693.1 327.9,693.4 329.4,693.6 330.9,693.8 332.5,694 334,694.3 335.5,694.5 337,694.7 338.5,695 340,695.2 341.6,695.5 343.1,695.8 344.6,696 346.1,696.3 347.6,696.5 349.1,696.8 350.7,697 352.2,697.2 353.7,697.5 355.2,697.7 356.7,698 358.2,698.2 359.8,698.4 361.3,698.7 362.8,698.9 364.3,699.1 365.8,699.4 367.3,699.6 368.9,699.8 370.4,700.1 371.9,700.3 373.4,700.5"/>
<polyline class="c" points="280.9,683.3 282.4,684.6 283.9,685.8 285.5,687 287,688.2 288.5,689.3 290,690.4 291.5,691.4 293.1,692.3 294.6,693.2 296.1,694 297.6,694.7 299.1,695.4 300.7,696 302.2,696.6 303.7,697.1 305.2,697.7 306.7,698.2 308.3,698.6 309.8,699.1 311.3,699.5 312.8,699.8 314.3,700.1 315.9,700.4 317.4,700.6 318.9,700.8 320.4,701 321.9,701.2 323.5,701.4 325,701.6 326.5,701.7 328,701.9 329.5,702 331,702.1 332.6,702.3 334.1,702.4 335.6,702.6 337.1,702.7 338.6,702.9 340.2,703.1 341.7,703.3 343.2,703.4 344.7,703.6 346.2,703.8 347.8,704 349.3,704.1 350.8,704.3 352.3,704.5 353.8,704.7 355.4,704.9 356.9,705.1 358.4,705.2 359.9,705.4 361.4,705.6 363,705.8 364.5,706 366,706.2 367.5,706.3 369,706.5 370.6,706.7 372.1,706.9 373.6,707.1"/>
<polyline class="c dd" points="280.9,693.5 282.4,694.5 283.9,695.4 285.5,696.3 287,697.2 288.5,698 290,698.8 291.5,699.6 293.1,700.3 294.6,701 296.1,701.6 297.6,702.2 299.1,702.7 300.7,703.2 302.2,703.6 303.7,704.1 305.2,704.5 306.7,705 308.3,705.4 309.8,705.7 311.3,706.1 312.8,706.4 314.3,706.6 315.9,706.9 317.4,707.1 318.9,707.3 320.4,707.4 321.9,707.6 323.5,707.7 325,707.9 326.5,708 328,708.1 329.5,708.2 331,708.3 332.6,708.4 334.1,708.5 335.6,708.6 337.1,708.7 338.6,708.8 340.2,708.9 341.7,709 343.2,709.1 344.7,709.2 346.2,709.3 347.8,709.4 349.3,709.5 350.8,709.6 352.3,709.7 353.8,709.8 355.4,709.9 356.9,710 358.4,710.1 359.9,710.2 361.4,710.3 363,710.3 364.5,710.4 366,710.5 367.5,710.6 369,710.7 370.6,710.8 372.1,710.8 373.6,710.9"/>
<polyline class="c d" points="390.3,523.7 391.8,524.5 393.3,525.3 394.8,526 396.3,526.7 397.8,527.3 399.3,527.8 400.8,528.2 402.3,528.6 403.8,528.8 405.3,528.9 406.8,529 408.3,529.1 409.8,529.2 411.3,529.3 412.8,529.3 414.3,529.4 415.8,529.4 417.3,529.4 418.8,529.3 420.3,529.1 421.8,528.9 423.3,528.6 424.8,528.2 426.3,527.7 427.8,527.3 429.3,526.7 430.8,526.2 432.3,525.6 433.8,525 435.3,524.4 436.9,523.7 438.4,523.1 439.9,522.5 441.4,522 442.9,521.4 444.4,520.9 445.9,520.5 447.4,520.1 448.9,519.7 450.4,519.4 451.9,519.1 453.4,518.8 454.9,518.5 456.4,518.2 457.9,517.9 459.4,517.7 460.9,517.4 462.4,517.1 463.9,516.9 465.4,516.6 466.9,516.4 468.4,516.1 469.9,515.9 471.4,515.7 472.9,515.5 474.4,515.3 475.9,515.1 477.4,514.9 478.9,514.7 480.4,514.6 481.9,514.4 483.4,514.3"/>
<polyline class="c" points="390.3,562.7 391.8,563 393.3,563.3 394.8,563.5 396.3,563.8 397.8,564 399.3,564.1 400.8,564.3 402.3,564.4 403.8,564.5 405.3,564.6 406.9,564.7 408.4,564.7 409.9,564.8 411.4,564.8 412.9,564.8 414.4,564.8 415.9,564.8 417.4,564.7 418.9,564.5 420.4,564.3 421.9,564.1 423.4,563.8 424.9,563.4 426.4,563 427.9,562.6 429.4,562.2 430.9,561.7 432.4,561.3 433.9,560.8 435.4,560.3 437,559.9 438.5,559.4 440,559 441.5,558.5 443,558.2 444.5,557.8 446,557.5 447.5,557.2 449,556.9 450.5,556.7 452,556.5 453.5,556.3 455,556.1 456.5,555.9 458,555.7 459.5,555.5 461,555.3 462.5,555.1 464,554.9 465.5,554.7 467,554.6 468.6,554.4 470.1,554.2 471.6,554.1 473.1,553.9 474.6,553.8 476.1,553.7 477.6,553.6 479.1,553.5 480.6,553.4 482.1,553.3 483.6,553.2"/>
<polyline class="c dd" points="390.3,592 391.8,592.1 393.3,592.2 394.8,592.3 396.3,592.3 397.8,592.4 399.3,592.4 400.8,592.5 402.3,592.5 403.8,592.5 405.3,592.6 406.9,592.6 408.4,592.6 409.9,592.6 411.4,592.6 412.9,592.6 414.4,592.6 415.9,592.6 417.4,592.6 418.9,592.5 420.4,592.4 421.9,592.3 423.4,592.1 424.9,591.8 426.4,591.6 427.9,591.3 429.4,591 430.9,590.6 432.4,590.2 433.9,589.9 435.4,589.5 437,589.1 438.5,588.7 440,588.4 441.5,588 443,587.7 444.5,587.4 446,587.1 447.5,586.9 449,586.6 450.5,586.5 452,586.3 453.5,586.1 455,585.9 456.5,585.7 458,585.5 459.5,585.3 461,585.1 462.5,585 464,584.8 465.5,584.6 467,584.5 468.6,584.3 470.1,584.2 471.6,584 473.1,583.9 474.6,583.8 476.1,583.6 477.6,583.5 479.1,583.4 480.6,583.3 482.1,583.2 483.6,583.1"/>
<polyline class="c d" points="390.3,685.9 391.8,686.6 393.3,687.3 394.8,687.9 396.3,688.6 397.8,689.2 399.3,689.8 400.8,690.4 402.3,690.9 403.8,691.5 405.3,692 406.8,692.5 408.3,693 409.8,693.4 411.3,693.9 412.8,694.4 414.3,694.8 415.8,695.2 417.3,695.6 418.8,696 420.3,696.4 421.8,696.8 423.3,697.1 424.8,697.5 426.3,697.8 427.8,698.1 429.3,698.4 430.8,698.7 432.3,699 433.8,699.2 435.3,699.5 436.9,699.8 438.4,700 439.9,700.3 441.4,700.5 442.9,700.7 444.4,700.9 445.9,701.1 447.4,701.3 448.9,701.4 450.4,701.6 451.9,701.7 453.4,701.9 454.9,702 456.4,702.2 457.9,702.3 459.4,702.5 460.9,702.6 462.4,702.8 463.9,702.9 465.4,703 466.9,703.1 468.4,703.2 469.9,703.4 471.4,703.5 472.9,703.6 474.4,703.6 475.9,703.7 477.4,703.8 478.9,703.9 480.4,703.9 481.9,704 483.4,704"/>
<polyline class="c" points="390.3,695.5 391.8,696.3 393.3,697 394.8,697.8 396.3,698.5 397.8,699.1 399.3,699.6 400.8,700 402.3,700.3 403.8,700.7 405.3,701 406.9,701.3 408.4,701.6 409.9,701.9 411.4,702.1 412.9,702.4 414.4,702.6 415.9,702.8 417.4,703 418.9,703.2 420.4,703.4 421.9,703.6 423.4,703.8 424.9,704 426.4,704.3 427.9,704.5 429.4,704.7 430.9,704.9 432.4,705.1 433.9,705.3 435.4,705.5 437,705.7 438.5,705.9 440,706.1 441.5,706.3 443,706.5 444.5,706.7 446,706.8 447.5,707 449,707.1 450.5,707.3 452,707.4 453.5,707.6 455,707.7 456.5,707.9 458,708 459.5,708.1 461,708.3 462.5,708.4 464,708.5 465.5,708.7 467,708.8 468.6,708.9 470.1,709 471.6,709.1 473.1,709.3 474.6,709.4 476.1,709.5 477.6,709.6 479.1,709.7 480.6,709.7 482.1,709.8 483.6,709.9"/>
<polyline class="c dd" points="390.3,701.8 391.8,702.4 393.3,703 394.8,703.6 396.3,704.2 397.8,704.8 399.3,705.3 400.8,705.7 402.3,706.2 403.8,706.6 405.3,706.9 406.9,707.2 408.4,707.5 409.9,707.8 411.4,708 412.9,708.3 414.4,708.5 415.9,708.7 417.4,708.9 418.9,709.1 420.4,709.3 421.9,709.5 423.4,709.6 424.9,709.7 426.4,709.8 427.9,709.9 429.4,710 430.9,710.1 432.4,710.2 433.9,710.2 435.4,710.3 437,710.3 438.5,710.4 440,710.5 441.5,710.5 443,710.5 444.5,710.6 446,710.6 447.5,710.7 449,710.7 450.5,710.8 452,710.8 453.5,710.8 455,710.9 456.5,710.9 458,710.9 459.5,711 461,711 462.5,711 464,711.1 465.5,711.1 467,711.1 468.6,711.2 470.1,711.2 471.6,711.2 473.1,711.3 474.6,711.3 476.1,711.3 477.6,711.3 479.1,711.4 480.6,711.4 482.1,711.4 483.6,711.4"/>
</g>

</svg>
</body></html>
